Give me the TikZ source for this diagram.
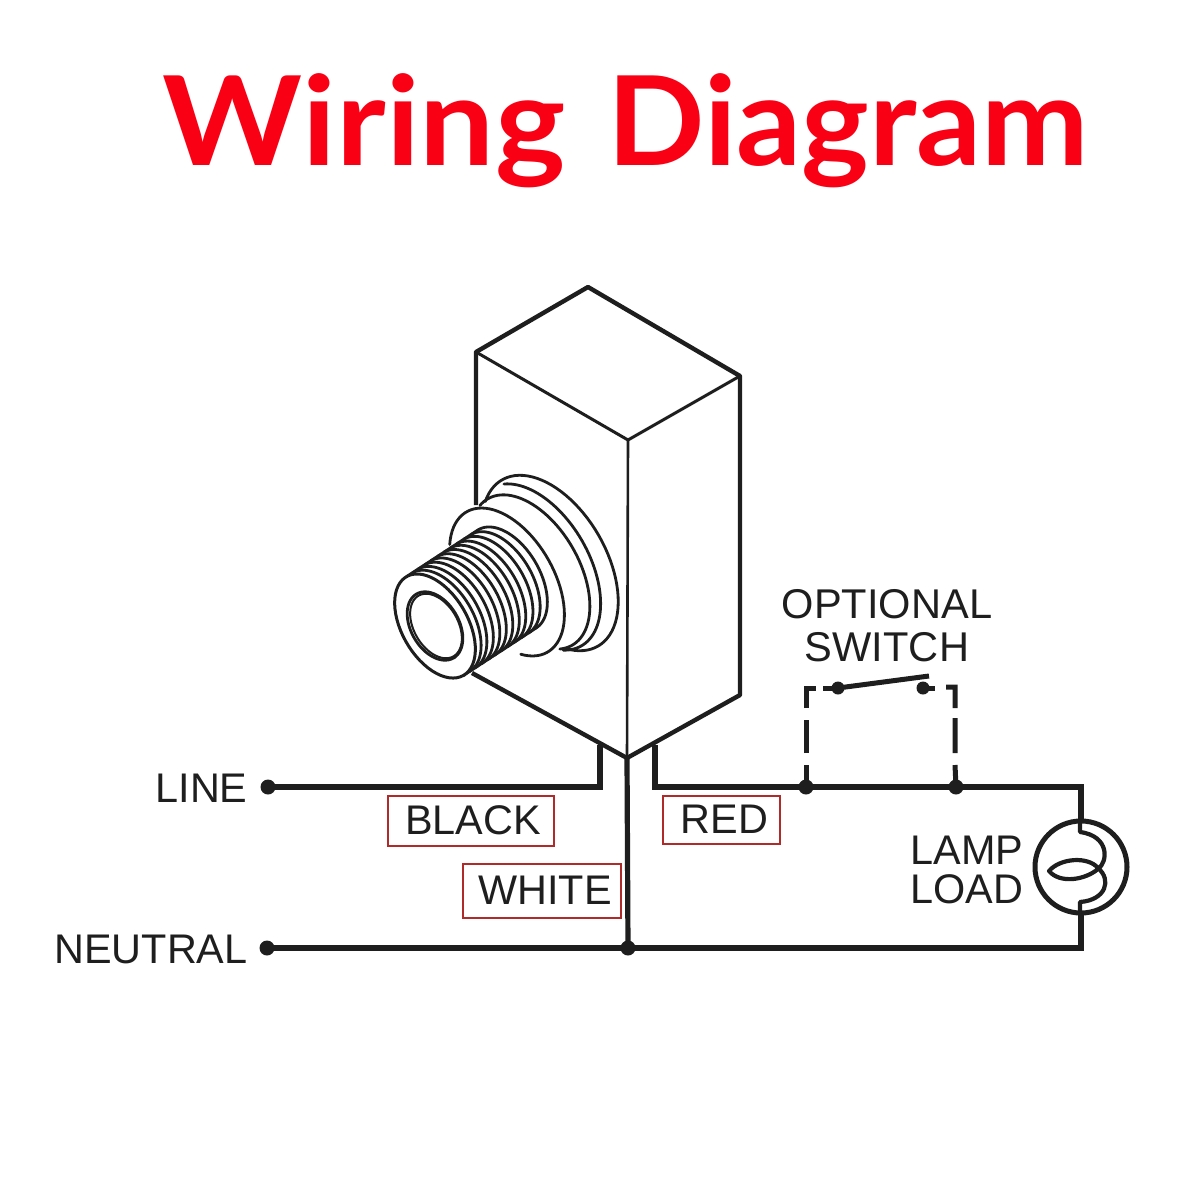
\documentclass[tikz,border=0pt]{standalone}
\usepackage{fontspec}
\setmainfont{Liberation Sans}
\newfontfamily\titlefont{Lato}
\definecolor{ink}{HTML}{1E1E1E}
\definecolor{boxred}{HTML}{B02A2A}
\definecolor{titlered}{HTML}{FA0014}
\newcommand{\earc}[6]{% cx cy a b t0 t1
  plot[variable=\t,domain=#5:#6,samples=60] ({#1+#3*cos(\t)*0.5-#4*sin(\t)*0.866},{#2+#3*cos(\t)*0.866+#4*sin(\t)*0.5})}
\tikzset{
  wire/.style={draw=ink,line width=2.6pt,line join=miter},
  dashwire/.style={draw=ink,line width=2.5pt,line join=miter},
  outline/.style={draw=ink,line width=2.2pt,line join=round},
  inner edge/.style={draw=ink,line width=1.5pt,line join=round},
  fine/.style={draw=ink,line width=1.4pt,line cap=round},
  joint/.style={circle,fill=ink,inner sep=0pt,minimum size=7.5pt},
  caption/.style={text=ink,font=\fontsize{20.7}{21}\selectfont,inner sep=0pt},
  tag/.style={caption,draw=boxred,line width=0.8pt,minimum height=25pt}
}
\begin{document}
\begin{tikzpicture}[x=0.5pt,y=-0.5pt]
\useasboundingbox (0,0) rectangle (1200,1200);
% title
\node[font=\titlefont\bfseries\fontsize{62}{62}\selectfont,text=titlered,inner sep=0pt,anchor=base] (title) at (626,165) {\scalebox{1.075}[1]{Wiring}\hspace{21pt}\scalebox{1.035}[1]{Diagram}};
% box
\coordinate (apex) at (588,287);
\coordinate (tl) at (476,352);
\coordinate (tr) at (740,376);
\coordinate (fr) at (628,440);
\coordinate (bf) at (627,758);
\coordinate (br) at (740,695);
\coordinate (bl) at (472,673);
\coordinate (le) at (476,505);
\draw[outline] (le) -- (tl) -- (apex) -- (tr) -- (br) -- (bf) -- (bl);
\draw[inner edge] (tl) -- (fr) -- (tr);
\draw[draw=ink,line width=1.3pt] (fr) -- (bf);
% flange
\draw[fine] \earc{550}{563}{96}{56}{-207}{32};
\draw[fine] \earc{536}{567}{91}{53}{-165}{20};
\draw[fine] \earc{530}{572}{84.5}{49}{-192}{15};
\draw[fine] \earc{507}{582}{81}{47}{-221}{31};
% threads
\foreach \k in {0.08,0.16,0.25,0.34,0.43,0.52,0.61,0.7,0.8,0.9,1.0}{
  \draw[fine] \earc{435+72*\k}{626-47*\k}{57}{33}{-180}{0};
}
\draw[fine] (406.5,576.6) -- (478.5,529.6);
\draw[fine] (463.5,675.4) -- (535.5,628.4);
% front rim
\draw[fine,line width=1.5pt,fill=white] \earc{435}{626}{57}{33}{0}{360} -- cycle;
\draw[fine] \earc{435}{626}{37}{24}{0}{360} -- cycle;
\draw[fine,line width=1pt] \earc{436}{626}{35}{22}{0}{360} -- cycle;
% wires
\node[joint] (line) at (268,787) {};
\node[joint] (neutral) at (267,948) {};
\node[joint] (nj) at (628,948) {};
\node[joint] (s1) at (806,787) {};
\node[joint] (s2) at (956,787) {};
\node[joint,minimum size=6.5pt] (c1) at (838,688) {};
\node[joint,minimum size=6.5pt] (c2) at (923,688) {};
\coordinate (blackup) at (600,745);
\coordinate (redup) at (655,745);
\coordinate (corner) at (1081,787);
\coordinate (lower) at (1081,948);
\coordinate (armtip) at (929,676);
\draw[wire] (line.center) -| (blackup);
\draw[wire] (redup) |- (corner) -- (1081,822);
\draw[wire] (bf) -- (nj.center);
\draw[wire] (neutral.center) -- (lower) -- (1081,912);
% switch
\draw[dashwire] (c1.center) -- (armtip);
\draw[dashwire] (823,688) -- (c1.center) (c2.center) -- (935,688);
\draw[dashwire] (s1.center) -- (806,765) (806,753) -- (806,720) (806,708) -- (806,688) -- (816,688);
\draw[dashwire] (s2.center) -- (955,765) (955,753) -- (955,718) (955,708) -- (955,687) -- (946,687);
% lamp
\node[circle,draw=ink,line width=2.5pt,minimum size=46pt,inner sep=0pt] (lamp) at (1081,867) {};
\draw[draw=ink,line width=2.1pt,line join=round]
  (1080,823) -- (1080,832) .. controls (1110,836) and (1108,862) .. (1098,869)
  .. controls (1085,880) and (1060,884) .. (1049,871)
  .. controls (1060,858) and (1088,856) .. (1098,868)
  .. controls (1112,880) and (1106,900) .. (1080,902) -- (1080,912);
% labels
\node[caption,anchor=east] (linel) at (248,788) {LINE};
\node[caption,anchor=east] (neutrall) at (248,949) {NEUTRAL};
\node[caption,align=center,font=\fontsize{20.8}{21.6}\selectfont] (opt) at (887,626) {OPTIONAL\\SWITCH};
\node[caption,align=center,font=\fontsize{20.7}{19.6}\selectfont] (lampl) at (967,870) {LAMP\\LOAD};
\node[tag,minimum width=83pt] (black) at (471,821) {\raisebox{1.2pt}{\hspace{2pt}BLACK}};
\node[tag,minimum width=79pt,minimum height=27pt] (white) at (542,891) {\raisebox{1pt}{\hspace{3pt}WHITE}};
\node[tag,minimum width=58.5pt,minimum height=24pt] (red) at (721.5,820) {\raisebox{1pt}{\hspace{3pt}RED}};
\end{tikzpicture}
\end{document}
